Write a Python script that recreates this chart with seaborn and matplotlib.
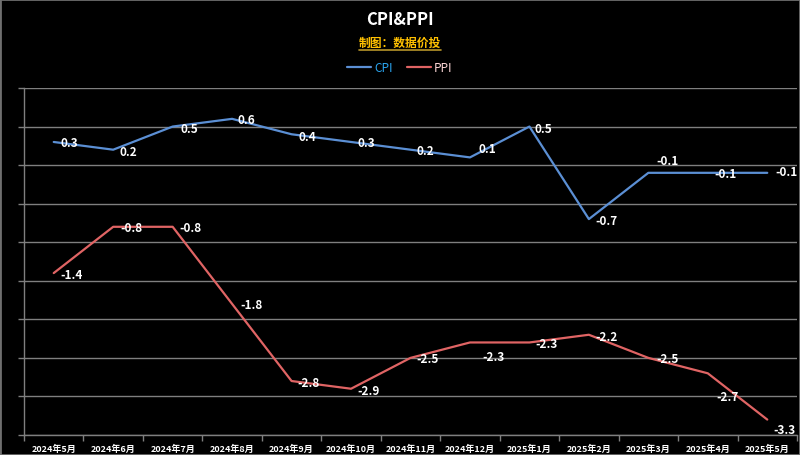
import matplotlib.pyplot as plt
import matplotlib.ticker as mticker
import pandas as pd
import seaborn as sns
from matplotlib.lines import Line2D
from matplotlib.patches import Rectangle

MONTHS = ["2024年5月", "2024年6月", "2024年7月", "2024年8月", "2024年9月", "2024年10月",
          "2024年11月", "2024年12月", "2025年1月", "2025年2月", "2025年3月", "2025年4月",
          "2025年5月"]
CPI = [0.3, 0.2, 0.5, 0.6, 0.4, 0.3, 0.2, 0.1, 0.5, -0.7, -0.1, -0.1, -0.1]
PPI = [-1.4, -0.8, -0.8, -1.8, -2.8, -2.9, -2.5, -2.3, -2.3, -2.2, -2.5, -2.7, -3.3]

CPI_COLOR = "#5B8FD4"
PPI_COLOR = "#E06464"
GRID = "#7F7F7F"

# label offsets in pixels (dx, dy)
CPI_OFF = [(16, -1), (15, -2), (17, -2), (14, -1), (16, -2), (15, -1), (15, -1),
           (17, 9), (14, -2), (18, -1), (19, 12), (18, -1), (19, 1)]
PPI_OFF = [(18, -1), (18, -1), (18, -1), (19, -1), (17, -1), (18, -2), (17, -1),
           (24, -14), (17, -1), (18, -2), (19, -1), (20, -23), (17, -10)]

sns.set_style("dark", {"axes.facecolor": "black", "figure.facecolor": "black"})
plt.rcParams["font.family"] = ["Noto Sans CJK SC", "DejaVu Sans"]

df = pd.DataFrame({"month": MONTHS, "CPI": CPI, "PPI": PPI})
df["x"] = range(len(df))

fig = plt.figure(figsize=(8, 4.56), dpi=100)
ax = fig.add_axes([24 / 800, 1 - 436 / 456, (797 - 24) / 800, (436 - 89) / 456])
ax.set_facecolor("black")

sns.lineplot(data=df, x="x", y="CPI", ax=ax, color=CPI_COLOR, linewidth=1.6)
sns.lineplot(data=df, x="x", y="PPI", ax=ax, color=PPI_COLOR, linewidth=1.6)

for series, offs in ((CPI, CPI_OFF), (PPI, PPI_OFF)):
    for i, (v, (dx, dy)) in enumerate(zip(series, offs)):
        ax.annotate(f"{v:g}", (i, v), textcoords="offset pixels", xytext=(dx, dy),
                    ha="center", va="center", color="white", fontsize=8.5,
                    fontweight="bold", annotation_clip=False)

ax.set_xlim(-0.5, len(MONTHS) - 0.5)
ax.set_ylim(-3.5, 1.0)
ax.yaxis.set_major_locator(mticker.MultipleLocator(0.5))
ax.set_yticklabels([])
ax.tick_params(axis="y", left=True, length=4, color=GRID, width=1)
ax.set_xticks(df["x"])
ax.set_xticklabels(MONTHS, color="white", fontsize=6.5, fontweight="bold")
ax.xaxis.set_minor_locator(mticker.FixedLocator([i - 0.5 for i in range(len(MONTHS) + 1)]))
ax.tick_params(axis="x", which="major", length=0, pad=6)
ax.tick_params(axis="x", which="minor", bottom=True, length=4, color=GRID, width=1)
ax.grid(axis="y", color=GRID, linewidth=1)
ax.grid(axis="x", visible=False)
ax.set_xlabel("")
ax.set_ylabel("")
for side in ("top", "right"):
    ax.spines[side].set_visible(False)
for side in ("left", "bottom"):
    ax.spines[side].set_visible(True)
    ax.spines[side].set_color(GRID)
    ax.spines[side].set_linewidth(1)

fig.text(0.5, 1 - 20 / 456, "CPI&PPI", ha="center", va="center", color="white",
         fontsize=12, fontweight="bold")
sub = fig.text(0.5, 1 - 43 / 456, "制图：数据价投", ha="center", va="center",
               color="#FFC000", fontsize=8.5, fontweight="bold")
fig.canvas.draw()
bb = sub.get_window_extent().transformed(fig.transFigure.inverted())
fig.add_artist(Line2D([bb.x0, bb.x1], [bb.y0 - 0.004, bb.y0 - 0.004],
                      transform=fig.transFigure, color="#B8962A", linewidth=1.2))

handles = [Line2D([], [], color=CPI_COLOR, linewidth=1.6),
           Line2D([], [], color=PPI_COLOR, linewidth=1.6)]
leg = fig.legend(handles, ["CPI", "PPI"], loc="center", bbox_to_anchor=(0.5, 1 - 69 / 456),
                 ncol=2, frameon=False, fontsize=8.5, handlelength=2.0,
                 handletextpad=0.3, columnspacing=1.2)
for txt, c in zip(leg.get_texts(), ["#2AA5F0", "#FFD8D8"]):
    txt.set_color(c)

fig.patches.append(Rectangle((0, 0), 1, 1, transform=fig.transFigure, fill=False,
                             edgecolor="#6F6F6F", linewidth=2))

fig.savefig("out.png", dpi=100, facecolor="black")
